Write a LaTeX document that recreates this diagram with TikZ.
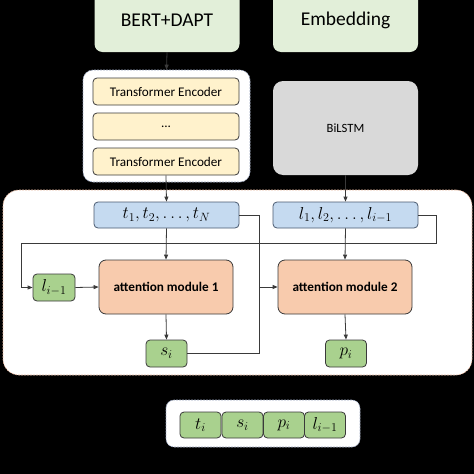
\documentclass[tikz,border=0pt]{standalone}
\usepackage{fontspec}
\setmainfont{Carlito}
\usetikzlibrary{arrows.meta}
\definecolor{topgreen}{HTML}{E2EFD9}
\definecolor{encfill}{HTML}{FFF2CC}
\definecolor{bluefill}{HTML}{C5DAF0}
\definecolor{bluedraw}{HTML}{4A5A70}
\definecolor{attfill}{HTML}{F8CBAD}
\definecolor{greenfill}{HTML}{A9D18E}
\definecolor{greyfill}{HTML}{D9D9D9}
\definecolor{linecol}{HTML}{3A3A3A}
\definecolor{orangeb}{HTML}{E8B9A0}
\definecolor{blueb}{HTML}{9AA6C0}
\tikzset{
  base/.style={rectangle, rounded corners=4pt, inner sep=0pt, anchor=center},
  topbox/.style={base, rounded corners=8pt, fill=topgreen, minimum width=145pt, font=\fontsize{19.5}{21}\selectfont},
  encbox/.style={base, fill=encfill, draw=linecol, line width=0.8pt, minimum width=146pt, minimum height=27pt, font=\fontsize{13.2}{15}\selectfont},
  bluebox/.style={base, fill=bluefill, draw=bluedraw, line width=0.8pt, minimum width=145pt, minimum height=26pt, font=\fontsize{17.8}{19}\selectfont},
  attbox/.style={base, rounded corners=7pt, fill=attfill, draw=linecol, line width=0.8pt, minimum width=134pt, minimum height=54pt, font=\bfseries\fontsize{13.2}{15}\selectfont},
  gbox/.style={base, fill=greenfill, draw=linecol, line width=0.8pt, minimum width=41pt, minimum height=27pt, font=\fontsize{18.5}{20}\selectfont},
  contbox/.style={base, fill=white, line width=0.6pt, dashed, dash pattern=on 2pt off 1pt},
  conn/.style={draw=linecol, line width=0.8pt},
  arr/.style={conn, -{Triangle[length=5pt,width=4pt]}}
}
\begin{document}
\begin{tikzpicture}[x=1pt,y=-1pt]
\fill[black] (0,0) rectangle (474,474);
\useasboundingbox (0,0) rectangle (474,474);
% top
\node[topbox, minimum height=64pt] (bert) at (167,20) {BERT+DAPT};
\node[topbox, minimum height=64pt] (emb) at (345.5,20) {Embedding};
% encoder stack
\node[contbox, rounded corners=10pt, draw=blueb, minimum width=167pt, minimum height=112pt] (enc) at (166.5,126) {};
\node[encbox] (te1) at (166,91.5) {Transformer Encoder};
\node[encbox] (te2) at (166,126.5) {...};
\node[encbox] (te3) at (166,161.5) {Transformer Encoder};
\node[base, rounded corners=10pt, fill=greyfill, minimum width=145pt, minimum height=94pt, font=\fontsize{12.6}{14}\selectfont] (bilstm) at (345.5,128) {BiLSTM};
% big container
\node[contbox, rounded corners=16pt, draw=orangeb, minimum width=469pt, minimum height=185pt] (big) at (237.5,282.5) {};
\node[bluebox] (tb) at (166.5,215) {$t_1, t_2, \ldots, t_N$};
\node[bluebox] (lb) at (345.5,215) {$l_1, l_2, \ldots, l_{i-1}$};
\node[attbox] (att1) at (166,287) {attention module 1};
\node[attbox] (att2) at (345,287) {attention module 2};
\node[gbox, minimum width=42pt] (lprev) at (54,287.5) {$l_{i-1}$};
\node[gbox] (si) at (166.5,353.5) {$s_i$};
\node[gbox] (pi) at (346,353.5) {$p_i$};
% bottom
\node[contbox, rounded corners=8pt, draw=blueb, minimum width=194pt, minimum height=47pt] (bot) at (263,423.5) {};
\node[gbox, minimum height=26pt] (bt) at (200.5,425) {$t_i$};
\node[gbox, minimum height=26pt] (bs) at (242.5,425) {$s_i$};
\node[gbox, minimum height=26pt] (bp) at (284,425) {$p_i$};
\node[gbox, minimum height=26pt] (bl) at (325,425) {$l_{i-1}$};
% connectors
\draw[arr] (bert.south) -- (enc.north);
\draw[arr] (te3.south) -- (tb.north);
\draw[arr] (bilstm.south) -- (lb.north);
\draw[arr] (tb.south) -- (att1.north);
\draw[arr] (lb.south) -- (att2.north);
\coordinate (c1) at (436,243);
\coordinate (c2) at (21,243);
\draw[arr] (lb.east) -| (c1) -- (c2) |- (lprev.west);
\draw[arr] (lprev.east) -- (att1.west);
\coordinate (j) at (259,287);
\draw[conn] (tb.east) -| (j);
\draw[conn] (si.east) -| (j);
\draw[arr] (j) -- (att2.west);
\draw[arr] (att1.south) -- (si.north);
\draw[arr] (att2.south) -- (pi.north);
\end{tikzpicture}
\end{document}
